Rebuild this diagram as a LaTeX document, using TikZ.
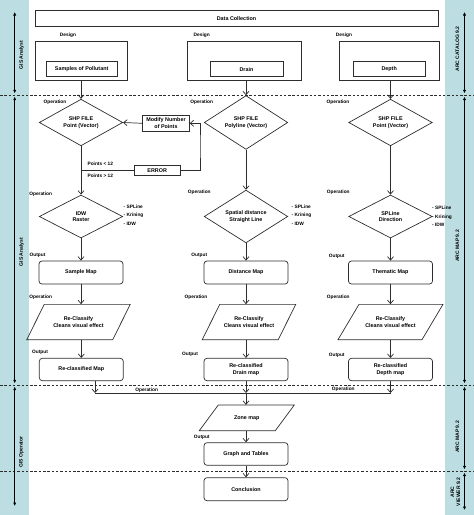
\documentclass[tikz,border=0pt]{standalone}
\usepackage{fontspec}
\setmainfont{Liberation Sans}
\usetikzlibrary{shapes.geometric,arrows.meta,calc}
\definecolor{band}{RGB}{188,222,226}
\definecolor{ln}{RGB}{45,45,45}
\newcommand{\paral}[4]{\draw[con] ($(#1.center)+({-#2/2+#3/2},{-#4/2})$) -- ++(#2,0) -- ++(-#3,#4) -- ++(-#2,0) -- cycle;}
\begin{document}
\begin{tikzpicture}[x=1pt,y=-1pt,
  every node/.style={inner sep=0pt},
  txt/.style={font=\fontsize{5.4}{6.6}\selectfont\bfseries, align=center},
  lbl/.style={font=\fontsize{4.8}{5.8}\selectfont\bfseries},
  lst/.style={font=\fontsize{4.8}{8.3}\selectfont\bfseries, align=left, anchor=west},
  box/.style={txt, draw=ln, line width=0.7pt, minimum width=84pt, minimum height=23pt},
  rbox/.style={box, rounded corners=3pt},
  dia/.style={txt, diamond, draw=ln, line width=0.7pt, minimum width=83.5pt, minimum height=43pt},
  par/.style={txt},
  arr/.style={draw=ln, line width=0.7pt, -{Straight Barb[length=3.5pt,width=6pt]}},
  con/.style={draw=ln, line width=0.7pt},
  dsh/.style={draw=ln, line width=0.6pt, dash pattern=on 2.5pt off 1.8pt},
  bar/.style={draw=black, line width=0.6pt, {Latex[length=3.5pt,width=3.2pt]}-{Latex[length=3.5pt,width=3.2pt]}},
  side/.style={font=\fontsize{5}{6}\selectfont\bfseries, rotate=90, align=center},
]
\useasboundingbox (0,0) rectangle (474,515);
% side bands
\fill[band] (0,0) rectangle (28.7,515);
\fill[band] (444.7,0) rectangle (474,515);
% dashed separators
\draw[dsh] (0,95) -- (474,95);
\draw[dsh] (0,385) -- (474,385);
\draw[dsh] (0,471) -- (474,471);
% left band arrows
\coordinate (la1) at (14.7,12);   \coordinate (la2) at (14.7,93.3);
\coordinate (la3) at (14.7,96.7); \coordinate (la4) at (14.7,383.3);
\coordinate (la5) at (14.7,386.7);\coordinate (la6) at (14.7,506);
\draw[bar] (la1) -- (la2);
\draw[bar] (la3) -- (la4);
\draw[bar] (la5) -- (la6);
\node[side] (gis1) at (21.5,55) {GIS Analyst};
\node[side] (gis2) at (21.5,252) {GIS Analyst};
\node[side] (gis3) at (21.5,452) {GIS Operator};
% right band arrows
\coordinate (ra1) at (464.5,12);   \coordinate (ra2) at (464.5,93.3);
\coordinate (ra3) at (464.5,96.7); \coordinate (ra4) at (464.5,383.3);
\coordinate (ra5) at (464.5,386.7);\coordinate (ra6) at (464.5,469.3);
\coordinate (ra7) at (464.5,472.7);\coordinate (ra8) at (464.5,510);
\draw[bar] (ra1) -- (ra2);
\draw[bar] (ra3) -- (ra4);
\draw[bar] (ra5) -- (ra6);
\draw[bar] (ra7) -- (ra8);
\node[side] (arc1) at (457.5,49) {ARC CATALOG 9.2};
\node[side] (arc2) at (457.5,246) {ARC MAP 9.2};
\node[side] (arc3) at (457.5,437) {ARC MAP 9.2};
\node[side] (arc4) at (455.5,492) {ARC\\VIEWER 9.2};

% Data collection
\node[box, minimum width=403pt, minimum height=16pt] (dc) at (236.5,18.7) {Data Collection};

% design boxes
\node[box, minimum width=92.7pt, minimum height=39.3pt] (o1) at (81.35,60.65) {};
\node[box, minimum width=71.3pt, minimum height=15pt] (i1) at (81.65,69.2) {Samples of Pollutant};
\node[box, minimum width=114pt, minimum height=39.3pt] (o2) at (244.7,60.65) {};
\node[box, minimum width=73pt, minimum height=15pt] (i2) at (246.5,69.2) {Drain};
\node[box, minimum width=100.4pt, minimum height=39.3pt] (o3) at (389.5,60.65) {};
\node[box, minimum width=71.7pt, minimum height=15pt] (i3) at (389.15,69.2) {Depth};

% first diamonds
\node[dia] (d1) at (81,122.5) {SHP FILE\\Point (Vector)};
\node[dia] (d2) at (246,122.5) {SHP FILE\\Polyline (Vector)};
\node[dia] (d3) at (390.5,122.5) {SHP FILE\\Point (Vector)};

% loop
\node[box, minimum width=46.6pt, minimum height=16.7pt] (mod) at (166,123.3) {Modify Number\\of Points};
\node[box, minimum width=46.3pt, minimum height=10.3pt] (err) at (157.2,170.2) {ERROR};
\coordinate (k) at (200,146);

% second diamonds
\node[dia] (e1) at (81,216.5) {IDW\\Raster};
\node[dia] (e2) at (246,216.5) {Spatial distance\\Straight Line};
\node[dia] (e3) at (390.5,216.5) {SPLine\\Direction};

\node[lst] (s1) at (123.5,215) {- SPLine\\- Krining\\- IDW};
\node[lst] (s2) at (291.5,215) {- SPLine\\- Krining\\- IDW};
\node[lst] (s3) at (432,216.5) {- SPLine\\- Krining\\- IDW};

% maps
\node[rbox] (m1) at (81,272.5) {Sample Map};
\node[rbox] (m2) at (246,272.5) {Distance Map};
\node[rbox] (m3) at (390.5,272.5) {Thematic Map};

% parallelograms
\node[par, minimum width=86pt, minimum height=35.3pt] (p1) at (78.5,322) {Re-Classify\\Cleans visual effect};
\paral{p1}{86}{17.5}{35.3}
\node[par, minimum width=76pt, minimum height=35.3pt] (p2) at (249,322) {Re-Classify\\Cleans visual effect};
\paral{p2}{76}{17.5}{35.3}
\node[par, minimum width=84pt, minimum height=35.3pt] (p3) at (390.5,322) {Re-Classify\\Cleans visual effect};
\paral{p3}{84}{21}{35.3}

% reclassified
\node[rbox, minimum height=22.4pt] (r1) at (81.3,369.5) {Re-classified Map};
\node[rbox, minimum height=22.4pt] (r2) at (246,369.5) {Re-classified\\Drain map};
\node[rbox, minimum height=22.4pt] (r3) at (390.5,369.5) {Re-classified\\Depth map};

% bottom
\coordinate (ml) at (95,393);
\node[par, minimum width=76pt, minimum height=25.7pt] (z) at (246.75,417.9) {Zone map};
\paral{z}{76}{19}{25.7}
\node[rbox, minimum height=22.6pt] (g) at (246,454) {Graph and Tables};
\node[rbox, minimum height=23pt] (c) at (246,489.2) {Conclusion};

% labels
\node[lbl] at (68,35) {Design};
\node[lbl] at (201.7,35) {Design};
\node[lbl] at (344,35) {Design};
\node[lbl] at (55,102) {Operation};
\node[lbl] at (201.7,102) {Operation};
\node[lbl] at (338,102) {Operation};
\node[lbl] at (40.7,194.3) {Operation};
\node[lbl] at (199.3,192.5) {Operation};
\node[lbl] at (338.3,192.7) {Operation};
\node[lbl] at (37.5,255) {Output};
\node[lbl] at (199.3,255) {Output};
\node[lbl] at (336.7,256) {Output};
\node[lbl] at (40.7,297.3) {Operation};
\node[lbl] at (196,297) {Operation};
\node[lbl] at (338.3,297.5) {Operation};
\node[lbl] at (40,352.3) {Output};
\node[lbl] at (190,354) {Output};
\node[lbl] at (336.7,355.7) {Output};
\node[lbl] at (146.7,390) {Operation};
\node[lbl] at (343.3,389.3) {Operation};
\node[lbl] at (201.7,437.7) {Output};
\node[lbl] at (100.3,164) {Points < 12};
\node[lbl] at (100.3,176) {Points > 12};

% connectors
\draw[arr] (o1.south -| d1.north) -- (d1.north);
\draw[arr] (o2.south -| d2.north) -- (d2.north);
\draw[arr] (o3.south -| d3.north) -- (d3.north);
\draw[arr] (d1.south) -- (e1.north);
\draw[con] (d1.south |- err.west) -- (err.west);
\draw[arr] (err.east) -| (k) |- (mod.east);
\draw[arr] (mod.west) -- (d1.east);
\draw[arr] (d2.south) -- (e2.north);
\draw[arr] (d3.south) -- (e3.north);
\draw[arr] (e1.south) -- (m1.north);
\draw[arr] (e2.south) -- (m2.north);
\draw[arr] (e3.south) -- (m3.north);
\draw[arr] (m1.south) -- (m1.south |- p1.north);
\draw[arr] (m2.south) -- (m2.south |- p2.north);
\draw[arr] (m3.south) -- (m3.south |- p3.north);
\draw[arr] (r1.north |- p1.south) -- (r1.north);
\draw[arr] (r2.north |- p2.south) -- (r2.north);
\draw[arr] (r3.north |- p3.south) -- (r3.north);
\draw[con] (ml) -- (r3.south |- ml);
\draw[arr] (r1.south -| ml) -- (ml);
\draw[arr] (r2.south) -- (r2.south |- ml);
\draw[arr] (r3.south) -- (r3.south |- ml);
\draw[arr] (r2.south |- ml) -- (r2.south |- z.north);
\draw[arr] (g.north |- z.south) -- (g.north);
\draw[arr] (g.south) -- (c.north);
\end{tikzpicture}
\end{document}
